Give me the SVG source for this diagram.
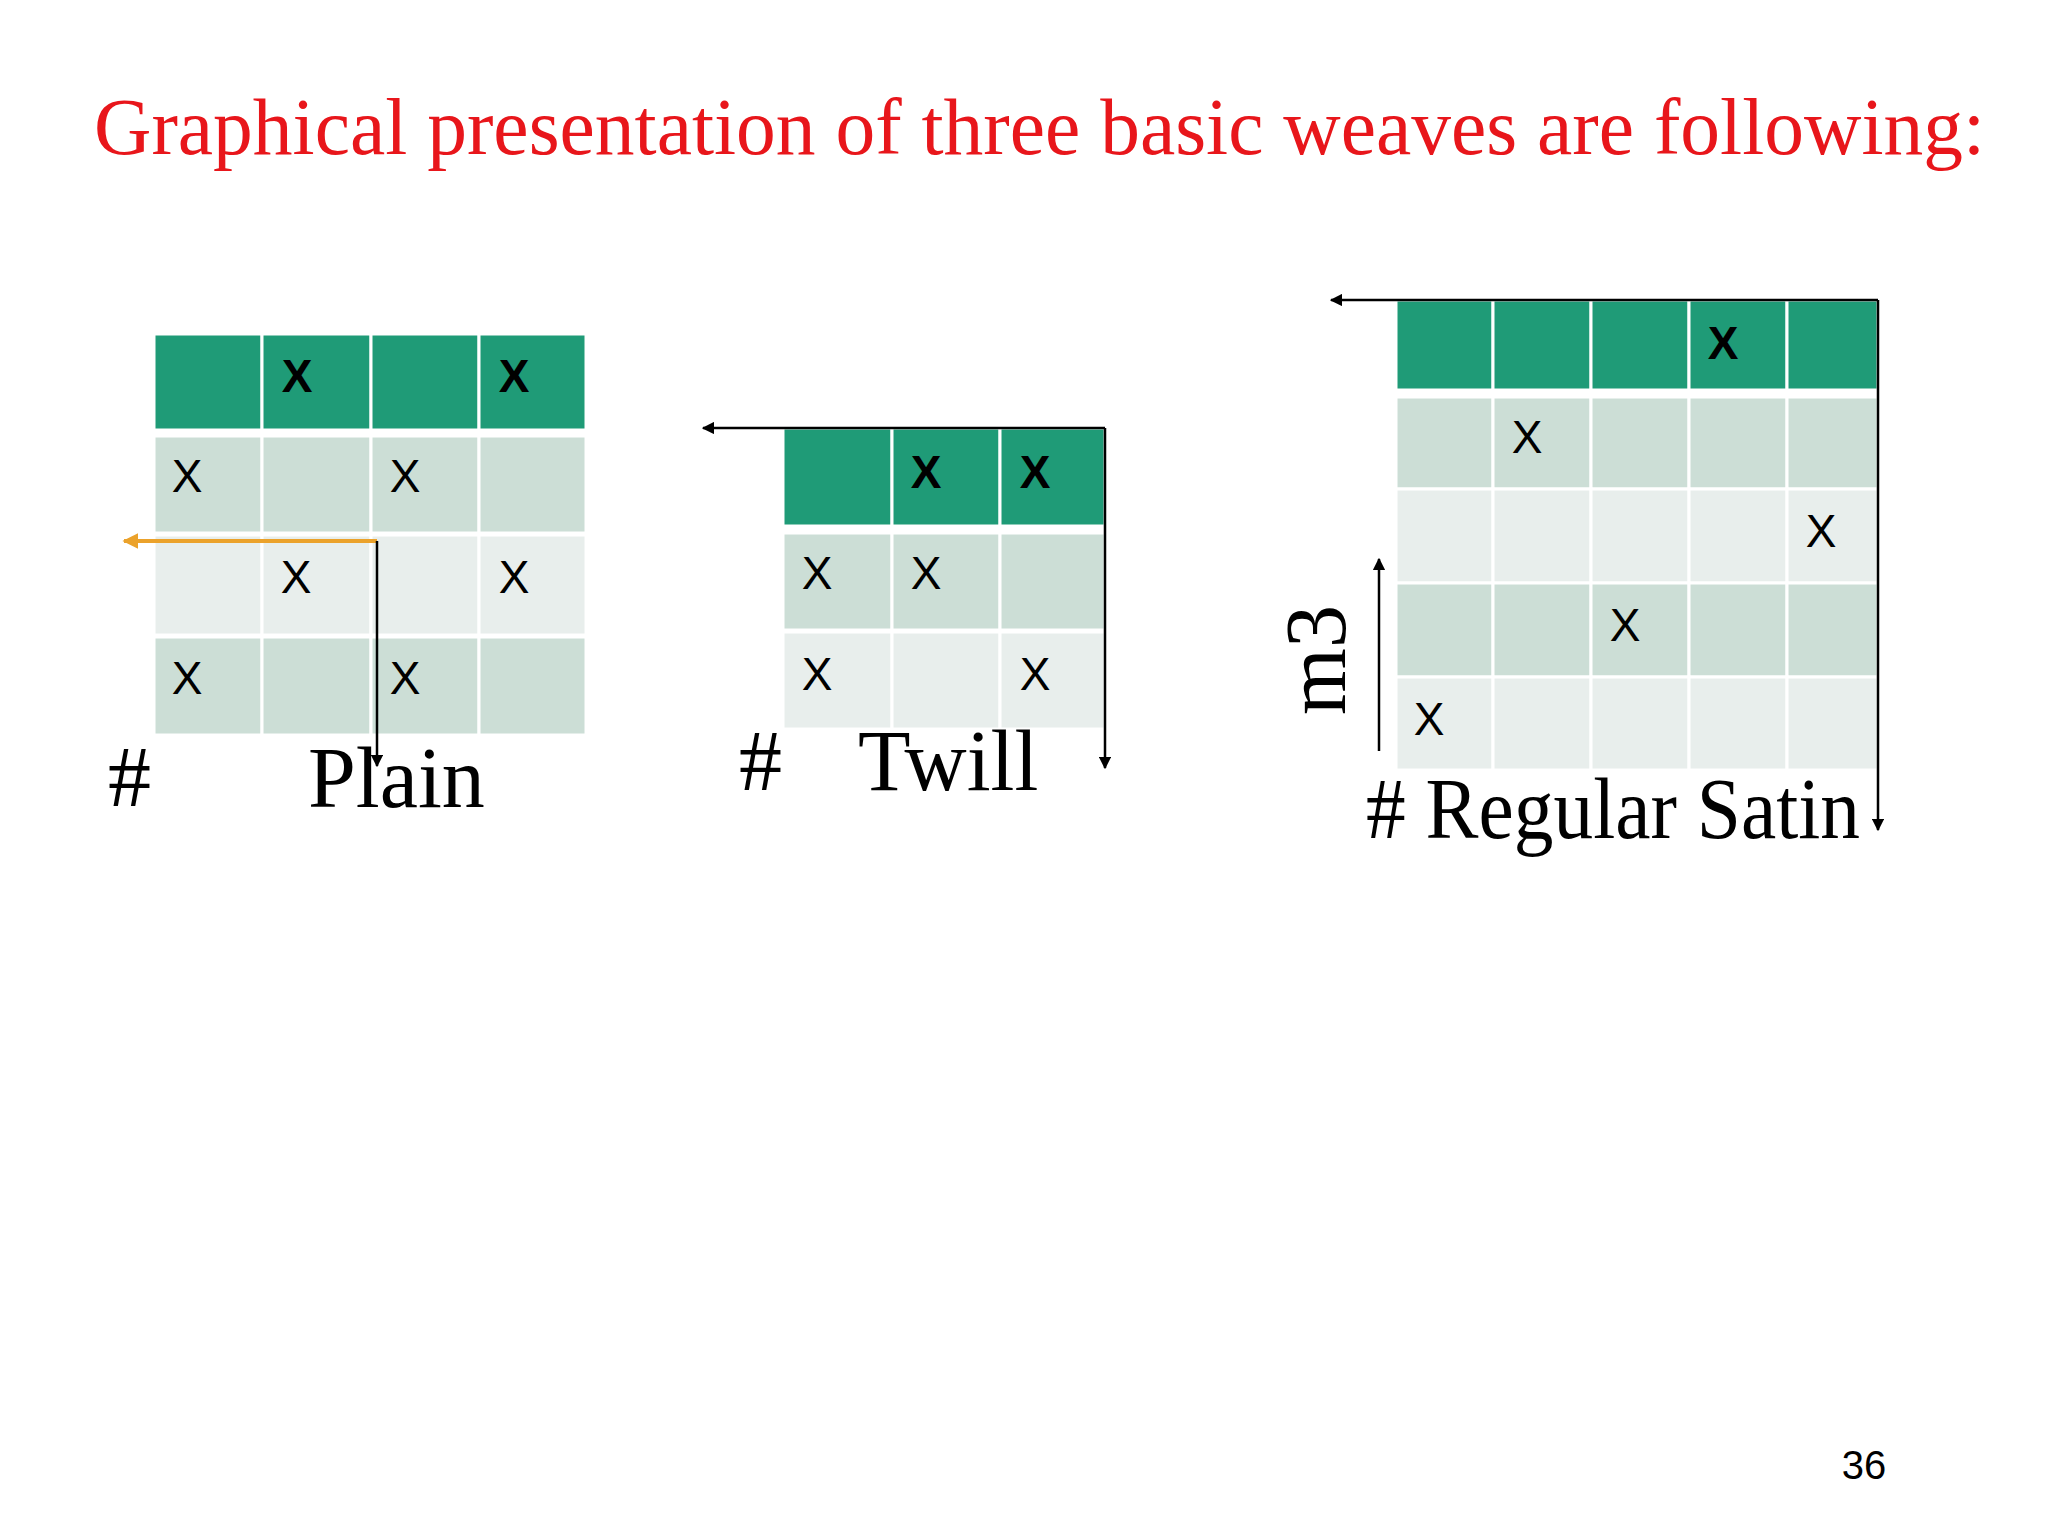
<svg xmlns="http://www.w3.org/2000/svg" width="2048" height="1536" viewBox="0 0 2048 1536">
<defs>
<marker id="ab" viewBox="0 0 10 10" refX="9" refY="5" markerWidth="5" markerHeight="5" orient="auto-start-reverse"><path d="M0,0 L10,5 L0,10 z" fill="#000"/></marker>
<marker id="ao" viewBox="0 0 10 10" refX="9" refY="5" markerWidth="4" markerHeight="4" orient="auto-start-reverse"><path d="M0,0 L10,5 L0,10 z" fill="#EBA22B"/></marker>
<style>
.d{fill:#1F9B77;stroke:#fff;stroke-width:3}
.l1{fill:#CCDED6;stroke:#fff;stroke-width:3}
.l2{fill:#E8EEEC;stroke:#fff;stroke-width:3}
.x{font-family:"Liberation Sans",Arial,sans-serif;font-size:46px;text-anchor:middle;fill:#000}
.xb{font-family:"Liberation Sans",Arial,sans-serif;font-size:46px;font-weight:bold;text-anchor:middle;fill:#000}
.lab{font-family:"Liberation Serif","Times New Roman",serif;font-size:86px;fill:#000}
.ln{stroke:#000;stroke-width:2.5;fill:none}
</style>
</defs>
<rect width="2048" height="1536" fill="#fff"/>
<text x="94" y="154" font-family="Liberation Serif,'Times New Roman',serif" font-size="80" fill="#E8161B" textLength="1891" lengthAdjust="spacingAndGlyphs">Graphical presentation of three basic weaves are following:</text>

<g id="plain">
<rect class="d" x="154" y="334" width="108" height="96"/><rect class="d" x="262" y="334" width="109" height="96"/><rect class="d" x="371" y="334" width="108" height="96"/><rect class="d" x="479" y="334" width="107" height="96"/>
<rect class="l1" x="154" y="436" width="108" height="97"/><rect class="l1" x="262" y="436" width="109" height="97"/><rect class="l1" x="371" y="436" width="108" height="97"/><rect class="l1" x="479" y="436" width="107" height="97"/>
<rect class="l2" x="154" y="535" width="108" height="100"/><rect class="l2" x="262" y="535" width="109" height="100"/><rect class="l2" x="371" y="535" width="108" height="100"/><rect class="l2" x="479" y="535" width="107" height="100"/>
<rect class="l1" x="154" y="637" width="108" height="98"/><rect class="l1" x="262" y="637" width="109" height="98"/><rect class="l1" x="371" y="637" width="108" height="98"/><rect class="l1" x="479" y="637" width="107" height="98"/>
<text class="xb" x="297" y="392">X</text><text class="xb" x="514" y="392">X</text>
<text class="x" x="187" y="492">X</text><text class="x" x="405" y="492">X</text>
<text class="x" x="296" y="593">X</text><text class="x" x="514" y="593">X</text>
<text class="x" x="187" y="694">X</text><text class="x" x="405" y="694">X</text>
<text class="lab" x="108" y="806">#</text>
<text class="lab" x="308" y="807">Plain</text>
</g>

<g id="twill">
<rect class="d" x="783" y="428" width="109" height="98"/><rect class="d" x="892" y="428" width="108" height="98"/><rect class="d" x="1000" y="428" width="105" height="98"/>
<rect class="l1" x="783" y="533" width="109" height="97"/><rect class="l1" x="892" y="533" width="108" height="97"/><rect class="l1" x="1000" y="533" width="105" height="97"/>
<rect class="l2" x="783" y="632" width="109" height="97"/><rect class="l2" x="892" y="632" width="108" height="97"/><rect class="l2" x="1000" y="632" width="105" height="97"/>
<text class="xb" x="926" y="488">X</text><text class="xb" x="1035" y="488">X</text>
<text class="x" x="817" y="589">X</text><text class="x" x="926" y="589">X</text>
<text class="x" x="817" y="690">X</text><text class="x" x="1035" y="690">X</text>
<text class="lab" x="739" y="790">#</text>
<text class="lab" x="858" y="790">Twill</text>
</g>

<g id="satin">
<rect class="d" x="1396" y="300" width="97" height="90"/><rect class="d" x="1493" y="300" width="98" height="90"/><rect class="d" x="1591" y="300" width="98" height="90"/><rect class="d" x="1689" y="300" width="98" height="90"/><rect class="d" x="1787" y="300" width="91" height="90"/>
<rect class="l1" x="1396" y="397" width="97" height="92"/><rect class="l1" x="1493" y="397" width="98" height="92"/><rect class="l1" x="1591" y="397" width="98" height="92"/><rect class="l1" x="1689" y="397" width="98" height="92"/><rect class="l1" x="1787" y="397" width="91" height="92"/>
<rect class="l2" x="1396" y="489" width="97" height="94"/><rect class="l2" x="1493" y="489" width="98" height="94"/><rect class="l2" x="1591" y="489" width="98" height="94"/><rect class="l2" x="1689" y="489" width="98" height="94"/><rect class="l2" x="1787" y="489" width="91" height="94"/>
<rect class="l1" x="1396" y="583" width="97" height="94"/><rect class="l1" x="1493" y="583" width="98" height="94"/><rect class="l1" x="1591" y="583" width="98" height="94"/><rect class="l1" x="1689" y="583" width="98" height="94"/><rect class="l1" x="1787" y="583" width="91" height="94"/>
<rect class="l2" x="1396" y="677" width="97" height="93"/><rect class="l2" x="1493" y="677" width="98" height="93"/><rect class="l2" x="1591" y="677" width="98" height="93"/><rect class="l2" x="1689" y="677" width="98" height="93"/><rect class="l2" x="1787" y="677" width="91" height="93"/>
<text class="xb" x="1723" y="359">X</text>
<text class="x" x="1527" y="453">X</text>
<text class="x" x="1821" y="547">X</text>
<text class="x" x="1625" y="641">X</text>
<text class="x" x="1429" y="735">X</text>
<text class="lab" transform="translate(1345,660) rotate(-90)" text-anchor="middle" font-size="80">m3</text>
<text class="lab" x="1366" y="838" textLength="494" lengthAdjust="spacingAndGlyphs"># Regular Satin</text>
</g>

<g id="connectors">
<line x1="377" y1="541" x2="124" y2="541" stroke="#EBA22B" stroke-width="4" marker-end="url(#ao)"/>
<line class="ln" x1="377" y1="541" x2="377" y2="766" marker-end="url(#ab)"/>
<line class="ln" x1="1105" y1="428" x2="703" y2="428" marker-end="url(#ab)"/>
<line class="ln" x1="1105" y1="428" x2="1105" y2="768" marker-end="url(#ab)"/>
<line class="ln" x1="1878" y1="300" x2="1331" y2="300" marker-end="url(#ab)"/>
<line class="ln" x1="1878" y1="300" x2="1878" y2="830" marker-end="url(#ab)"/>
<line class="ln" x1="1379" y1="751" x2="1379" y2="559" marker-end="url(#ab)"/>
</g>
<text x="1864" y="1479" font-family="Liberation Sans,Arial,sans-serif" font-size="40" text-anchor="middle" fill="#000">36</text>
</svg>
